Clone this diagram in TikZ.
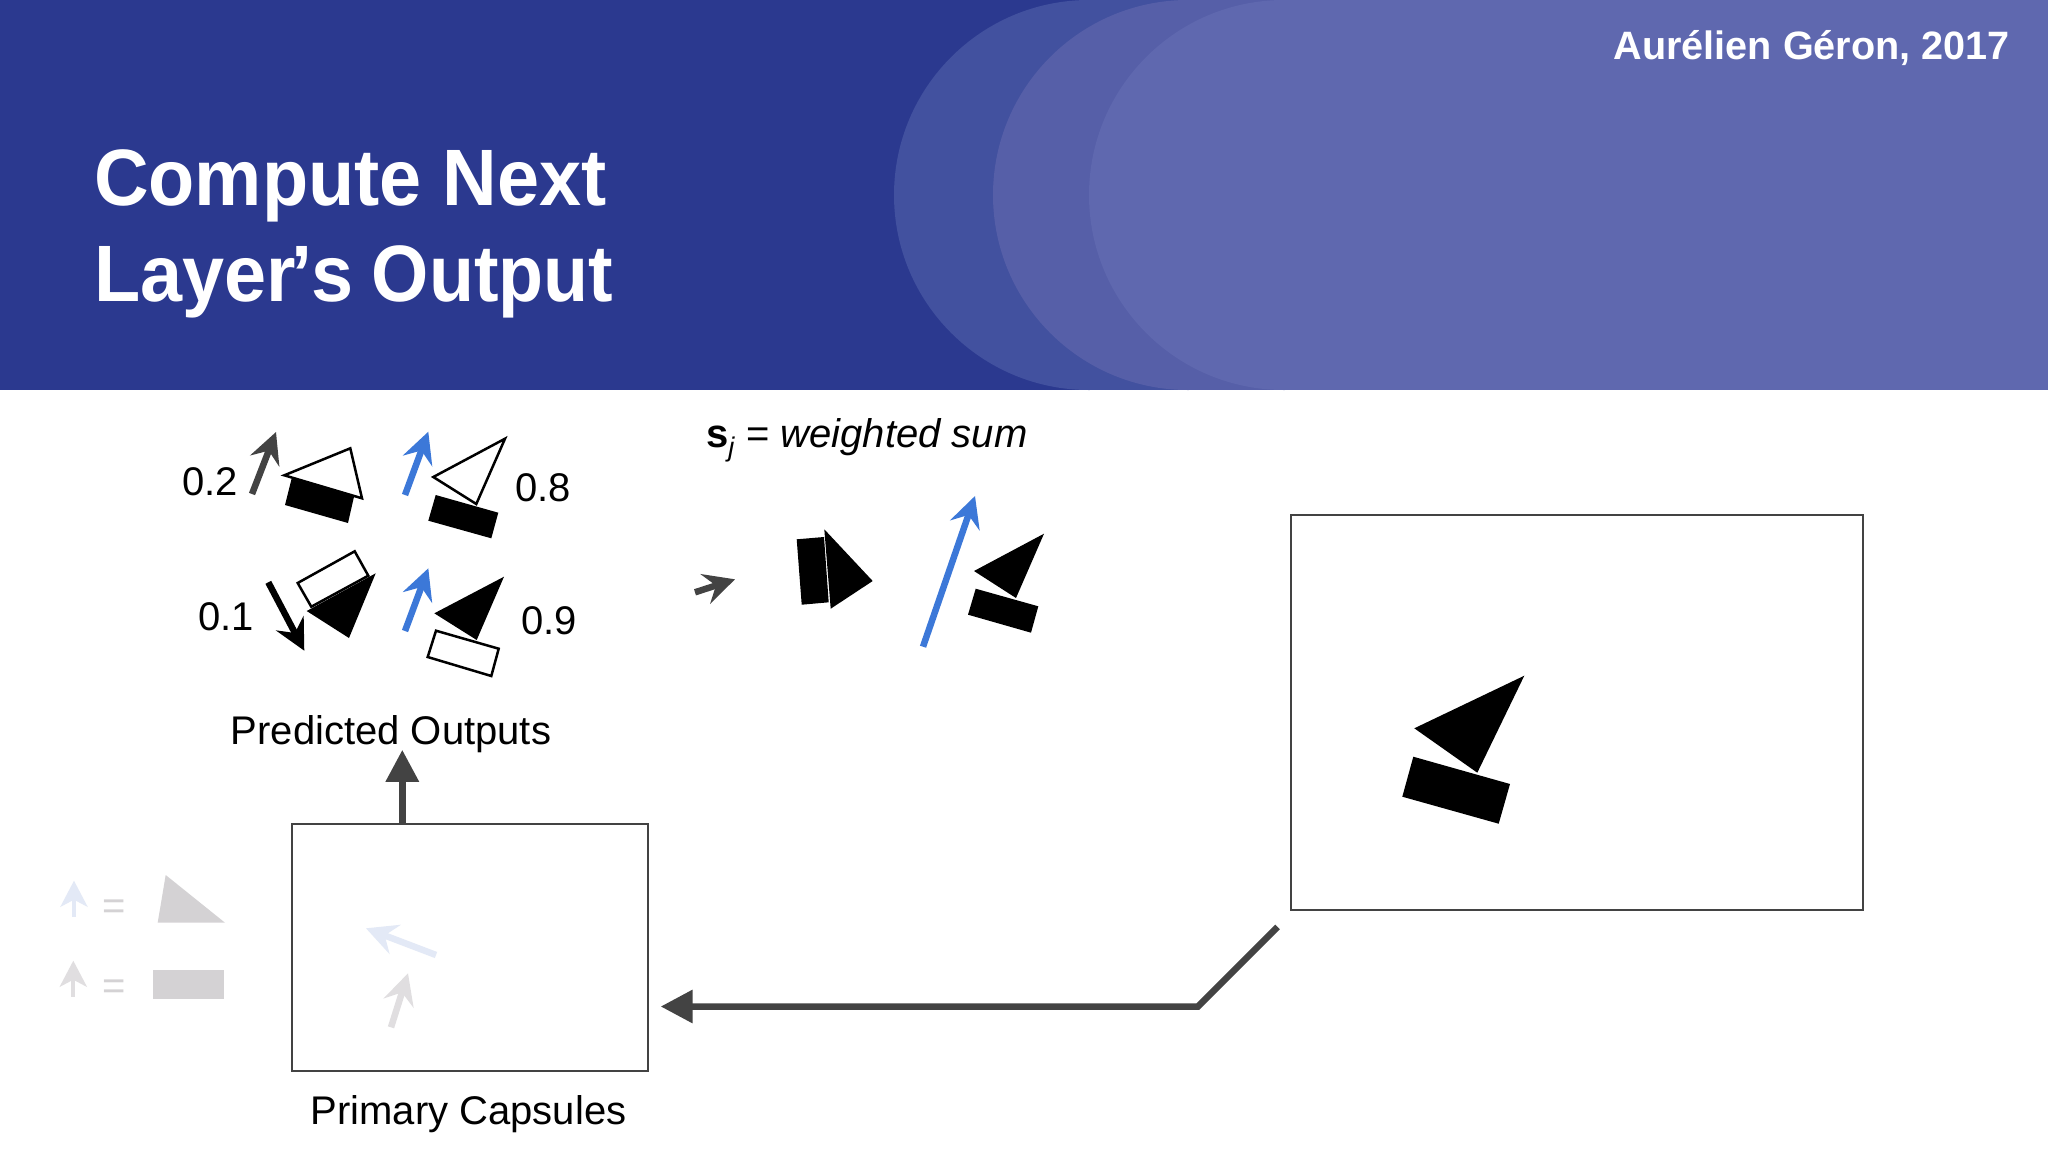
\documentclass[tikz,border=0pt]{standalone}
\usepackage{fontspec}
\setmainfont{Liberation Sans}
\newfontfamily\titlefont[FakeStretch=0.945]{Liberation Sans}
\newfontfamily\titlenarrow[FakeStretch=0.92]{Liberation Sans}
\usetikzlibrary{
  positioning,
  arrows.meta
}
\definecolor{bannerdark}{HTML}{2B398F}
\definecolor{bannerone}{HTML}{42519F}
\definecolor{bannertwo}{HTML}{565FA8}
\definecolor{bannerthree}{HTML}{5F68AF}
\definecolor{darkgrey}{HTML}{434343}
\definecolor{capsblue}{HTML}{3C78D8}
\definecolor{fadeblue}{HTML}{E3E9F6}
\definecolor{fadegrey}{HTML}{E0DEE0}
\definecolor{fadeshape}{HTML}{D4D2D4}
\begin{document}
\begin{tikzpicture}[x=1pt,y=-1pt,
    capsarrow/.style={-{Stealth[length=31pt,width=31pt,inset=11pt]},line width=6.5pt},
    legendarrow/.style={-{Stealth[length=26pt,width=27pt,inset=7pt]},line width=4pt},
    flowarrow/.style={-{Stealth[length=32pt,width=32pt,inset=0pt]},line width=6.5pt,darkgrey},
    framebox/.style={draw=darkgrey,line width=2pt,fill=white,inner sep=0pt,outer sep=0pt},
    caption/.style={font=\fontsize{40}{46}\selectfont,inner sep=0pt},
    outline/.style={draw=black,line width=2.5pt,fill=white,line join=miter},
    solid shape/.style={fill=black}]
  \useasboundingbox (0,0) rectangle (2048,1152);
  \fill[white] (0,0) rectangle (2048,1152);
  \begin{scope}
    \clip (0,0) rectangle (2048,390);
    \fill[bannerdark] (0,0) rectangle (2048,390);
    \fill[bannerone] (1089,195) circle[radius=195pt];
    \fill[bannerone] (1089,0) rectangle (2048,390);
    \fill[bannertwo] (1188,195) circle[radius=195pt];
    \fill[bannertwo] (1188,0) rectangle (2048,390);
    \fill[bannerthree] (1284,195) circle[radius=195pt];
    \fill[bannerthree] (1284,0) rectangle (2048,390);
  \end{scope}
  \node[white,font=\fontsize{80}{96}\titlefont\bfseries,align=left,anchor=north west,inner sep=0pt] (title) at (94,149) {Compute Next\\Layer\kern-4pt’\kern-1pt s\hspace{-3pt} {\titlenarrow\bfseries Output}};
  \node[white,font=\fontsize{39.6}{46}\selectfont\bfseries,anchor=base east,inner sep=0pt] (author) at (2010,59.5) {Aurélien Géron, 2017};

  \node[framebox,minimum width=356pt,minimum height=247pt] (primary) at (469.5,947.5) {};
  \node[framebox,minimum width=572pt,minimum height=395pt] (image) at (1576.5,712.5) {};
  \node[caption] (predicted) at (391,734) {Predicted Outputs};
  \node[caption] (capsules) at (468.5,1114) {Primary Capsules};
  \node[caption,anchor=base west] (sumlabel) at (706,447) {\textbf{s}\raisebox{-9pt}{\fontsize{27}{27}\selectfont\textit{j}} = \textit{weighted sum}};

  \node[caption] (pone) at (210,482) {0.2};
  \node[caption] (ptwo) at (543,488) {0.8};
  \node[caption] (pthree) at (226,617) {0.1};
  \node[caption] (pfour) at (549,620.5) {0.9};

  \fill[solid shape] (291.7,478.3) -- (354,496.7) -- (348,523) -- (285,505) -- cycle;
  \draw[outline] (284.3,475.3) -- (350.3,448.3) -- (362,498.3) -- cycle;
  \fill[solid shape] (435.7,495) -- (498.3,512.7) -- (491.3,538.3) -- (428.3,520.7) -- cycle;
  \draw[outline] (433.3,477) -- (505,438.7) -- (476.3,504) -- cycle;
  \draw[outline] (354.7,551.3) -- (368.3,575.7) -- (311.3,606.7) -- (297.7,583) -- cycle;
  \fill[solid shape] (375.7,573.3) -- (306.7,611) -- (349,638) -- cycle;
  \fill[solid shape] (434.3,613.3) -- (504,576.7) -- (476.7,640) -- cycle;
  \draw[outline] (436,630.7) -- (498.7,648.7) -- (491.3,676) -- (427.7,657) -- cycle;

  \draw[capsarrow,darkgrey] (252,494) -- (276,432);
  \draw[capsarrow,capsblue] (405,495) -- (428.3,431.7);
  \draw[capsarrow,black] (268.3,582.3) -- (304.3,650.7);
  \draw[capsarrow,capsblue] (405,631) -- (428.3,568.3);

  \draw[capsarrow,darkgrey] (695,592.3) -- (735,579.3);
  \fill[solid shape] (796.7,539.3) -- (824,537) -- (828.7,602.3) -- (801.7,604.7) -- cycle;
  \fill[solid shape] (824.3,529.3) -- (872.7,581) -- (830.7,608.7) -- cycle;
  \draw[capsarrow,capsblue] (923,646.7) -- (975,496);
  \fill[solid shape] (1044,533.7) -- (974,571) -- (1016,598) -- cycle;
  \fill[solid shape] (975.7,588.7) -- (1038.3,606.3) -- (1031,632.7) -- (968,614.7) -- cycle;

  \fill[solid shape] (1524.3,675.7) -- (1414.3,728.3) -- (1477.3,772.7) -- cycle;
  \fill[solid shape] (1413.3,756.7) -- (1510,784) -- (1498.7,823.7) -- (1402.3,796.7) -- cycle;

  \draw[capsarrow,fadeblue] (436,955) -- (366,928.3);
  \draw[capsarrow,fadegrey] (391,1027.3) -- (408,973.3);
  \draw[legendarrow,fadeblue] (74,916.7) -- (74,880.7);
  \draw[legendarrow,fadegrey] (73.3,996.7) -- (73.3,960.7);
  \node[caption,fadeshape] (eqone) at (114.5,909.5) {=};
  \node[caption,fadeshape] (eqtwo) at (114.5,989.5) {=};
  \fill[fadeshape] (165.7,875) -- (225,922.7) -- (157.7,922.7) -- cycle;
  \fill[fadeshape] (153.3,970) rectangle (223.7,999);

  \draw[flowarrow] (primary.north -| 402.3,0) -- ([xshift=11.3pt,yshift=3pt]predicted.south);
  \coordinate (imgtail) at ([shift={(-13pt,-17pt)}]image.south west);
  \coordinate (imgbend) at (1198,1006.5);
  \draw[flowarrow,shorten >=13.2pt,line join=miter] (imgtail) -- (imgbend) -- (imgbend -| primary.east);
\end{tikzpicture}
\end{document}
